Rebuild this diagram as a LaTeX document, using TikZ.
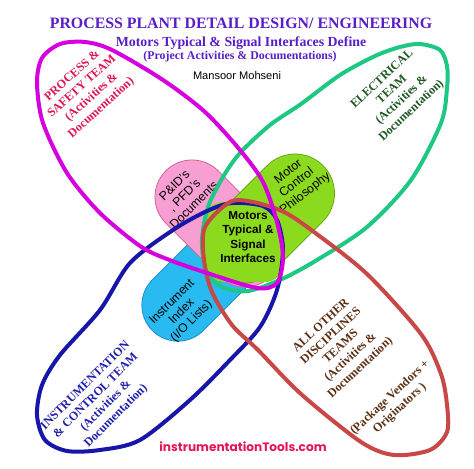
\documentclass[tikz,border=0pt]{standalone}
\usepackage{fontspec}
\setmainfont{Liberation Serif}
\setsansfont{Liberation Sans}
\newfontfamily\footfont{Poppins}

\definecolor{titlecol}{RGB}{88,30,200}
\definecolor{processcol}{RGB}{214,0,222}
\definecolor{processtxt}{RGB}{222,22,82}
\definecolor{eleccol}{RGB}{30,200,130}
\definecolor{electxt}{RGB}{30,88,36}
\definecolor{instcol}{RGB}{22,22,168}
\definecolor{insttxt}{RGB}{32,32,172}
\definecolor{othercol}{RGB}{200,72,72}
\definecolor{othertxt}{RGB}{92,48,20}
\definecolor{pidfill}{RGB}{247,158,210}
\definecolor{pidline}{RGB}{214,96,150}
\definecolor{iofill}{RGB}{40,186,240}
\definecolor{ioline}{RGB}{30,140,210}
\definecolor{mcpfill}{RGB}{140,218,30}
\definecolor{mcpline}{RGB}{96,160,20}
\definecolor{footcol}{RGB}{230,22,82}

\begin{document}
\begin{tikzpicture}[x=0.75pt,y=-0.75pt,
    teamloop/.style={line width=3pt},
    padshape/.style={draw, line width=0.6pt, rounded corners=#1, inner sep=0pt},
    padtext/.style={font=\sffamily\fontsize{9.2}{10.3}\selectfont, align=center},
    teamlabel/.style={font=\bfseries\fontsize{9.1}{10.8}\selectfont, align=center}]

    \useasboundingbox[fill=white] (0,0) rectangle (474,468);

    % Titres
    \node[font=\bfseries\fontsize{11.9}{14}\selectfont, text=titlecol] (title) at (241,23) {PROCESS PLANT DETAIL DESIGN/ ENGINEERING};
    \node[font=\bfseries\fontsize{10.4}{12}\selectfont, text=titlecol] (subtitle) at (241,43) {Motors Typical \& Signal Interfaces Define};
    \node[font=\bfseries\fontsize{8.9}{11}\selectfont, text=titlecol] (project) at (240,57) {(Project Activities \& Documentations)};
    \node[font=\sffamily\fontsize{8.3}{10}\selectfont] (author) at (237,76) {Mansoor Mohseni};

    % Les documents
    \node[padshape=27pt, draw=ioline, fill=iofill, minimum width=114.75pt, minimum height=54pt, rotate=45] (iopad) at (206.5,276.5) {};
    \node[padshape=27.75pt, draw=pidline, fill=pidfill, minimum width=111.75pt, minimum height=55.5pt, rotate=-45] (pidpad) at (218.5,223.5) {};

    % bloc central et philosophie : contour d'abord, remplissage ensuite
    \node[rectangle, draw=mcpline, line width=1.2pt, rounded corners=14pt, minimum size=58.5pt] (core) at (244,242) {};
    \node[padshape=29.25pt, draw=mcpline, line width=1.2pt, minimum width=111.75pt, minimum height=58.5pt, rotate=45] (mcppad) at (270,218.5) {};
    \fill[mcpfill, rounded corners=14pt] (core.north west) rectangle (core.south east);
    \node[padshape=29.25pt, draw=none, fill=mcpfill, minimum width=111.75pt, minimum height=58.5pt, rotate=45] (mcpfillpad) at (270,218.5) {};

    \node[padtext, rotate=45] (pidtext) at (184,195) {P\&ID's\\, PFD's\\Documents};
    \node[padtext, rotate=45] (iotext) at (182,312) {Instrument\\Index\\(I/O Lists)};
    \node[padtext, rotate=38] (mcptext) at (297,183) {Motor\\Control\\Philosophy};

    % Les equipes
    \draw[teamloop, draw=eleccol] plot[smooth cycle] coordinates {
        (420,44) (440,50) (447,66) (447,88) (441,123) (411,180) (367,227) (317,260)
        (282,279) (248,291) (222,287) (206,270) (202,240) (208,207) (223,177)
        (240,153) (270,125) (301,104) (340,75) (375,56) (400,47)};

    \draw[teamloop, draw=instcol] plot[smooth cycle] coordinates {
        (263,206) (277,220) (283,250) (277,290) (260,327) (230,360)
        (190,400) (140,440) (100,450) (67,451) (45,440) (37,415) (42,385)
        (60,355) (100,310) (130,263) (173,230) (207,211) (232,203)};

    \draw[teamloop, draw=othercol] plot[smooth cycle] coordinates {
        (230,202) (253,202) (284,212) (314,232) (367,274) (421,334) (441,374)
        (447,405) (447,432) (430,450) (394,455) (361,442) (301,394) (258,350)
        (232,325) (212,292) (204,260) (205,227)};

    \draw[teamloop, draw=processcol] plot[smooth cycle] coordinates {
        (37,83) (42,58) (60,44) (85,42) (112,50) (163,80) (205,112) (240,150)
        (263,182) (277,222) (283,257) (277,283) (257,288) (207,273) (167,259)
        (140,246) (100,213) (67,173) (43,123)};

    \node[teamlabel, text=processtxt, rotate=42] (processtext) at (87,92)
        {PROCESS \&\\SAFETY TEAM\\(Activities \&\\Documentation)};
    \node[teamlabel, text=electxt, rotate=43] (electext) at (397,95)
        {ELECTRICAL\\TEAM\\(Activities \&\\Documentation)};
    \node[teamlabel, text=insttxt, rotate=45] (insttext) at (101,401)
        {INSTRUMENTATION\\\& CONTROL TEAM\\(Activities \&\\Documentation)};
    \node[teamlabel, text=othertxt, rotate=43] (othertext) at (341,347)
        {ALL OTHER\\DISCIPLINES\\TEAMS\\(Activities \&\\Documentation)};
    \node[teamlabel, text=othertxt, rotate=43] (vendortext) at (395,403)
        {(Package Vendors +\\Originators )};

    \node[font=\sffamily\bfseries\fontsize{8.8}{10.7}\selectfont, align=center] (coretext) at (248,237)
        {Motors\\Typical \&\\Signal\\Interfaces};

    \node[font=\footfont\bfseries\fontsize{9.1}{12}\selectfont, text=footcol] (footer) at (243,447)
        {instrumentationTools.com};

\end{tikzpicture}
\end{document}
